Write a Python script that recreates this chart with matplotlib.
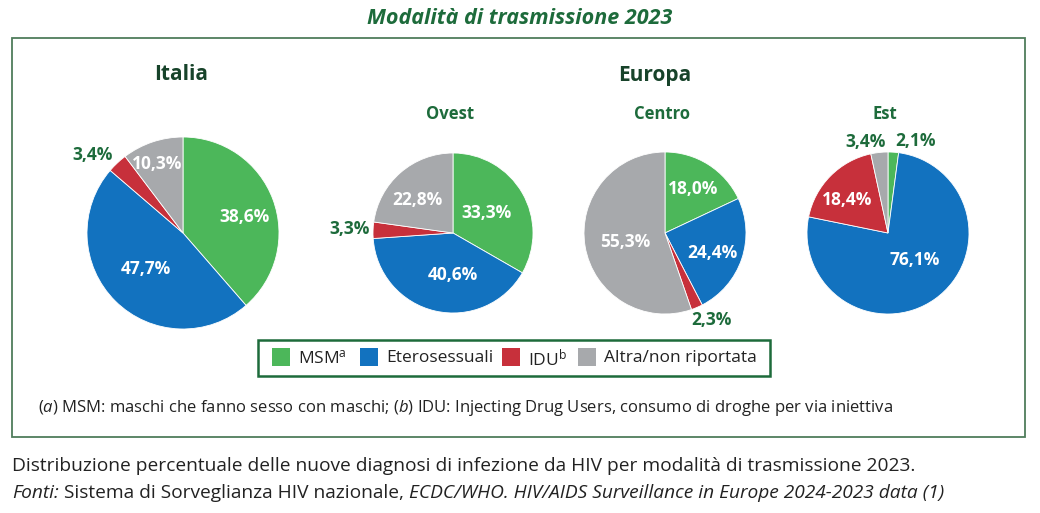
import matplotlib.pyplot as plt
from matplotlib.patches import Rectangle
import numpy as np

plt.rcParams['font.family'] = ['Open Sans', 'DejaVu Sans']
plt.rcParams['mathtext.fontset'] = 'custom'
plt.rcParams['mathtext.rm'] = 'Open Sans'
plt.rcParams['mathtext.it'] = 'Open Sans:italic'

# Data (percent)
categories = ['MSM', 'Eterosessuali', 'IDU', 'Altra/non riportata']
legend_labels = [r'MSM$^{\mathrm{a}}$', 'Eterosessuali', r'IDU$^{\mathrm{b}}$', 'Altra/non riportata']
regions = ['Italia', 'Ovest', 'Centro', 'Est']
italia = [38.6, 47.7, 3.4, 10.3]
ovest = [33.3, 40.6, 3.3, 22.8]
centro = [18.0, 24.4, 2.3, 55.3]
est = [2.1, 76.1, 18.4, 3.4]

colors = ['#4cb75a', '#1272bf', '#c7303b', '#a7a9ac']
dark_green = '#1d6b3b'
text_col = '#222222'

W, H = 1040, 513
fig = plt.figure(figsize=(W / 100, H / 100), dpi=100)
bg = fig.add_axes([0, 0, 1, 1])
bg.set_xlim(0, W)
bg.set_ylim(H, 0)
bg.axis('off')

# pie layout: center x, center y, radius (pixels)
layout = {
    'Italia': (183, 233, 96),
    'Ovest': (453, 233, 80),
    'Centro': (665, 233, 81),
    'Est': (888, 233, 81),
}
# label placement per slice: (radius factor, angle offset in degrees)
label_pos = {
    'Italia': [(0.66, -6), (0.54, -1), (1.25, 6), (0.77, 2)],
    'Ovest': [(0.49, 0), (0.52, 13), (1.29, 0), (0.61, 6)],
    'Centro': [(0.65, 0), (0.64, -4), (1.22, 5), (0.50, 3)],
    'Est': [(1.18, -13), (0.47, 10), (0.65, 6), (1.16, 8)],
}

for name, vals in zip(regions, [italia, ovest, centro, est]):
    cx, cy, r = layout[name]
    ax = fig.add_axes([(cx - r) / W, (H - cy - r) / H, 2 * r / W, 2 * r / H])
    wedges, _ = ax.pie(vals, colors=colors, startangle=90, counterclock=False,
                       wedgeprops=dict(linewidth=0.6, edgecolor='white'))
    ax.set_xlim(-1, 1)
    ax.set_ylim(-1, 1)
    ax.axis('off')
    for w, v, (rf, da) in zip(wedges, vals, label_pos[name]):
        ang = np.deg2rad((w.theta1 + w.theta2) / 2 + da)
        inside = rf < 1
        ax.text(rf * np.cos(ang), rf * np.sin(ang), f'{v:.1f}%'.replace('.', ','),
                ha='center', va='center', fontsize=12.5, fontweight='bold',
                color='white' if inside else dark_green, clip_on=False)

# outer frame
bg.add_patch(Rectangle((12, 38), 1013, 399, fill=False, edgecolor='#4f7d5c', lw=1.3))

# titles
bg.text(520, 19, 'Modalità di trasmissione 2023', ha='center', va='center',
        fontsize=15.5, fontweight='bold', style='italic', color=dark_green)
bg.text(181, 75, 'Italia', ha='center', va='center', fontsize=15,
        fontweight='bold', color='#17432a')
bg.text(655, 75, 'Europa', ha='center', va='center', fontsize=15,
        fontweight='bold', color='#17432a')
for name in regions[1:]:
    cx, cy, r = layout[name]
    bg.text(cx - 3, 114, name, ha='center', va='center', fontsize=12,
            fontweight='bold', color=dark_green)

# legend
bg.add_patch(Rectangle((258, 340), 512, 36, fill=False, edgecolor=dark_green, lw=1.8))
leg_x = [272, 360, 502, 578]
for x, c, lab in zip(leg_x, colors, legend_labels):
    bg.add_patch(Rectangle((x, 348), 18, 18, facecolor=c, edgecolor='none'))
    bg.text(x + 26, 358, lab, ha='left', va='center', fontsize=12.5, color=text_col)

# footnote
bg.text(38, 408, r'$\it{(a)}$ MSM: maschi che fanno sesso con maschi; $\it{(b)}$ IDU: '
        'Injecting Drug Users, consumo di droghe per via iniettiva',
        ha='left', va='center', fontsize=12, color=text_col)

# caption
fs = 13.8
bg.text(12, 466, 'Distribuzione percentuale delle nuove diagnosi di infezione da HIV '
        'per modalità di trasmissione 2023.', ha='left', va='center',
        fontsize=fs, color=text_col)
t1 = bg.text(12, 493, 'Fonti:', ha='left', va='center', fontsize=fs,
             style='italic', color=text_col)
t2 = bg.annotate(' Sistema di Sorveglianza HIV nazionale, ', xycoords=t1,
                 xy=(1, 0.5), va='center', fontsize=fs, color=text_col)
bg.annotate('ECDC/WHO. HIV/AIDS Surveillance in Europe 2024-2023 data (1)',
            xycoords=t2, xy=(1, 0.5), va='center', fontsize=fs,
            style='italic', color=text_col)

fig.savefig('out.png', dpi=100)
